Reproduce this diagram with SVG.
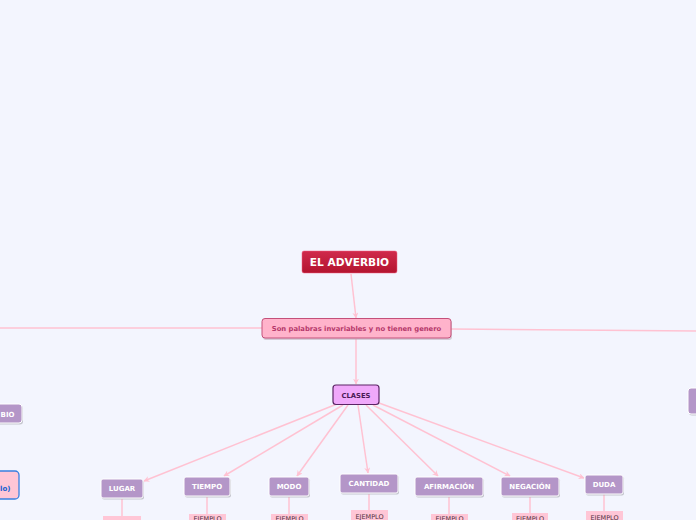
<svg xmlns="http://www.w3.org/2000/svg" width="696" height="520" viewBox="0 0 696 520">
<defs>
<style>
.bg{fill:#f3f5fe}
.ln{stroke:#ffc2d2;stroke-width:1.5;fill:none}
.pur{fill:#b496c8;stroke:#ffffff;stroke-width:1}
.sh{fill:#a8a8b0;opacity:0.6}
.pt{font-family:"DejaVu Sans",Verdana,sans-serif;font-weight:bold;font-size:7px;fill:#ffffff;text-anchor:middle}
.ej{fill:#ffc6d6}
.et{font-family:"DejaVu Sans",Verdana,sans-serif;font-size:6.5px;fill:#503040;text-anchor:middle}
</style>
<linearGradient id="red" x1="0" y1="0" x2="0" y2="1">
<stop offset="0" stop-color="#d02a4c"/>
<stop offset="1" stop-color="#b3142f"/>
</linearGradient>
<marker id="ar" viewBox="0 0 10 10" refX="9" refY="5" markerWidth="6" markerHeight="6" orient="auto" markerUnits="userSpaceOnUse">
<path d="M0,0 L10,5 L0,10 L3,5 Z" fill="#ffc2d2"/>
</marker>
</defs>
<rect class="bg" x="0" y="0" width="696" height="520"/>
<g id="connectors">
<line class="ln" x1="351" y1="274" x2="356" y2="318" marker-end="url(#ar)"/>
<line class="ln" x1="0" y1="328" x2="262" y2="328"/>
<line class="ln" x1="451" y1="329" x2="696" y2="331"/>
<line class="ln" x1="356" y1="339" x2="356" y2="384" marker-end="url(#ar)"/>
<line class="ln" x1="337" y1="404" x2="144" y2="481" marker-end="url(#ar)"/>
<line class="ln" x1="343" y1="405" x2="224" y2="476" marker-end="url(#ar)"/>
<line class="ln" x1="348" y1="405" x2="297" y2="476" marker-end="url(#ar)"/>
<line class="ln" x1="358" y1="405" x2="368" y2="473" marker-end="url(#ar)"/>
<line class="ln" x1="366" y1="405" x2="438" y2="476" marker-end="url(#ar)"/>
<line class="ln" x1="373" y1="405" x2="510" y2="476" marker-end="url(#ar)"/>
<line class="ln" x1="379" y1="403" x2="584" y2="478" marker-end="url(#ar)"/>
<line class="ln" x1="122" y1="499" x2="122" y2="516"/>
<line class="ln" x1="207" y1="497" x2="207" y2="514"/>
<line class="ln" x1="289" y1="497" x2="289" y2="514"/>
<line class="ln" x1="369" y1="494" x2="369" y2="510"/>
<line class="ln" x1="449" y1="497" x2="449" y2="514"/>
<line class="ln" x1="530" y1="497" x2="530" y2="513"/>
<line class="ln" x1="604" y1="494" x2="604" y2="511"/>
</g>
<g id="n-adverbio">
<rect x="302" y="251" width="95" height="22" rx="2" fill="url(#red)" stroke="#f06080" stroke-width="0.5"/>
<text x="349.5" y="265.8" font-family="DejaVu Sans,Verdana,sans-serif" font-weight="bold" font-size="10.6" fill="#ffffff" text-anchor="middle">EL ADVERBIO</text>
</g>
<g id="n-son">
<rect x="263" y="320" width="189" height="20" rx="3" fill="#b8a0b0" opacity="0.5"/>
<rect x="262" y="318.5" width="189" height="19.5" rx="3" fill="#ffb3cb" stroke="#c4507a" stroke-width="1"/>
<text x="356.5" y="330.8" font-family="DejaVu Sans,Verdana,sans-serif" font-weight="bold" font-size="6.8" fill="#b5386a" text-anchor="middle">Son palabras invariables y no tienen genero</text>
</g>
<g id="n-clases">
<rect x="333" y="385" width="46" height="19.5" rx="3" fill="#f0a8fa" stroke="#5a2464" stroke-width="1.2"/>
<text x="356" y="397.6" font-family="DejaVu Sans,Verdana,sans-serif" font-weight="bold" font-size="6.8" fill="#4a1a55" text-anchor="middle">CLASES</text>
</g>
<g id="n-left1">
<rect x="-20" y="405.5" width="43" height="19" rx="3" class="sh"/>
<rect x="-20" y="404" width="42" height="19" rx="3" class="pur"/>
<text x="14.5" y="416.5" font-family="DejaVu Sans,Verdana,sans-serif" font-weight="bold" font-size="7" fill="#ffffff" text-anchor="end">BIO</text>
</g>
<g id="n-left2">
<rect x="-30" y="471" width="49" height="28" rx="4" fill="#ffc6d6" stroke="#3a80e0" stroke-width="1.3"/>
<text x="10.5" y="491" font-family="DejaVu Sans,Verdana,sans-serif" font-weight="bold" font-size="7" fill="#2060d0" text-anchor="end">lo)</text>
</g>
<g id="n-right">
<rect x="689" y="389.5" width="30" height="26" rx="3" class="sh"/>
<rect x="688" y="388" width="30" height="26" rx="3" class="pur"/>
</g>
<g id="n-lugar">
<rect x="102" y="480.5" width="42" height="19" rx="2" class="sh"/>
<rect x="101" y="479" width="42" height="19" rx="2" class="pur"/>
<text x="122" y="491.3" class="pt">LUGAR</text>
<rect x="103" y="516" width="38" height="10" class="ej"/>
</g>
<g id="n-tiempo">
<rect x="185" y="478.5" width="46" height="19" rx="2" class="sh"/>
<rect x="184" y="477" width="46" height="19" rx="2" class="pur"/>
<text x="207" y="489.3" class="pt">TIEMPO</text>
<rect x="189" y="514" width="37" height="10" class="ej"/>
<text x="207.5" y="521" class="et">EJEMPLO</text>
</g>
<g id="n-modo">
<rect x="270" y="478.5" width="40" height="19" rx="2" class="sh"/>
<rect x="269" y="477" width="40" height="19" rx="2" class="pur"/>
<text x="289" y="489.3" class="pt">MODO</text>
<rect x="271" y="514" width="37" height="10" class="ej"/>
<text x="289.5" y="521" class="et">EJEMPLO</text>
</g>
<g id="n-cantidad">
<rect x="341" y="475.5" width="58" height="19" rx="2" class="sh"/>
<rect x="340" y="474" width="58" height="19" rx="2" class="pur"/>
<text x="369" y="486.3" class="pt">CANTIDAD</text>
<rect x="351" y="510" width="37" height="10" class="ej"/>
<text x="369.5" y="518.5" class="et">EJEMPLO</text>
</g>
<g id="n-afirmacion">
<rect x="416" y="478.5" width="68" height="19" rx="2" class="sh"/>
<rect x="415" y="477" width="68" height="19" rx="2" class="pur"/>
<text x="449" y="489.3" class="pt">AFIRMACIÓN</text>
<rect x="431" y="514" width="37" height="10" class="ej"/>
<text x="449.5" y="521" class="et">EJEMPLO</text>
</g>
<g id="n-negacion">
<rect x="502" y="478.5" width="58" height="19" rx="2" class="sh"/>
<rect x="501" y="477" width="58" height="19" rx="2" class="pur"/>
<text x="530" y="489.3" class="pt">NEGACIÓN</text>
<rect x="512" y="513" width="36" height="10" class="ej"/>
<text x="530" y="520.5" class="et">EJEMPLO</text>
</g>
<g id="n-duda">
<rect x="586" y="476.5" width="38" height="19" rx="2" class="sh"/>
<rect x="585" y="475" width="38" height="19" rx="2" class="pur"/>
<text x="604" y="487.3" class="pt">DUDA</text>
<rect x="586" y="511" width="37" height="10" class="ej"/>
<text x="604.5" y="519.5" class="et">EJEMPLO</text>
</g>
</svg>
